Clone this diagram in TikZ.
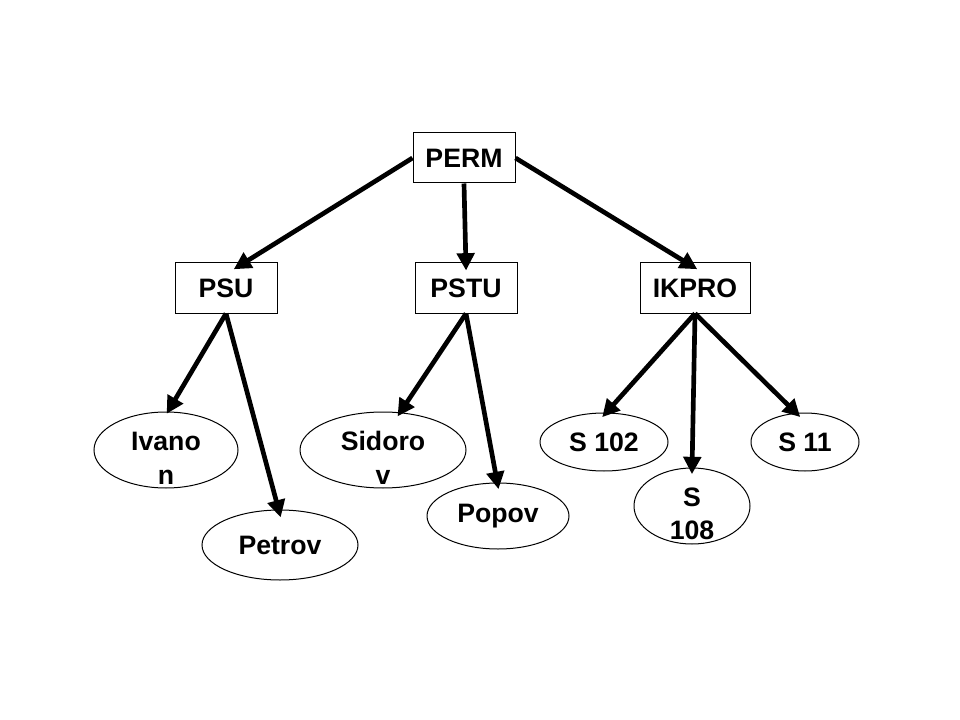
\documentclass[tikz,border=0pt]{standalone}
\usepackage{fontspec}
\setmainfont{Liberation Sans}
\usetikzlibrary{arrows.meta,shapes.geometric}
\newcommand{\lowr}{\rule{0pt}{26pt}}
\begin{document}
\begin{tikzpicture}[x=0.75pt,y=-0.75pt,
 every node/.style={font=\fontsize{20}{25}\selectfont\bfseries, align=center, inner sep=0pt},
 box/.style={draw, line width=0.75pt, minimum width=76.5pt, minimum height=37.5pt},
 oval/.style={draw, ellipse, line width=0.75pt},
 twoline/.style={inner ysep=-20pt},
 arr/.style={line width=3.5pt, -{Triangle[length=13pt,width=13pt]}, shorten >=-2pt}]
\useasboundingbox (0,0) rectangle (960,720);
\node[box] (perm) at (464,158) {PERM};
\node[box] (psu) at (226,288) {PSU};
\node[box,minimum width=76.5pt] (pstu) at (466,288) {PSTU};
\node[box,minimum width=82.5pt] (ikpro) at (695,288) {IKPRO};
\node[oval,twoline,minimum width=108pt,minimum height=57pt] (ivan) at (166,450) {\lowr Ivano\\n};
\node[oval,minimum width=117pt,minimum height=52.5pt] (petrov) at (280,545) {Petrov};
\node[oval,twoline,minimum width=124.5pt,minimum height=57pt] (sid) at (383,450) {\lowr Sidoro\\v};
\node[oval,minimum width=106.5pt,minimum height=49.5pt] (popov) at (498,516) {Popov};
\node[oval,minimum width=96pt,minimum height=43.5pt] (s102) at (604,442) {S 102};
\node[oval,twoline,minimum width=87pt,minimum height=57pt] (s108) at (692,506) {\lowr S\\108};
\node[oval,minimum width=81pt,minimum height=43.5pt] (s11) at (805,442) {S 11};
\draw[arr] (perm.west) -- ([xshift=7.5pt,yshift=-4pt]psu.north);
\draw[arr] (perm.south) -- ([yshift=-4pt]pstu.north);
\draw[arr] (perm.east) -- ([yshift=-4pt]ikpro.north);
\draw[arr] (psu.south) -- ([xshift=1.5pt]ivan.north);
\draw[arr] (psu.south) -- ([yshift=-4pt]petrov.north);
\draw[arr] (pstu.south) -- ([xshift=12pt,yshift=-2pt]sid.north);
\draw[arr] (pstu.south) -- ([yshift=-3pt]popov.north);
\draw[arr] (ikpro.south) -- ([yshift=-2pt]s102.north);
\draw[arr] (ikpro.south) -- ([yshift=-3pt]s108.north);
\draw[arr] (ikpro.south) -- ([xshift=-5pt,yshift=-2pt]s11.north);
\end{tikzpicture}
\end{document}
